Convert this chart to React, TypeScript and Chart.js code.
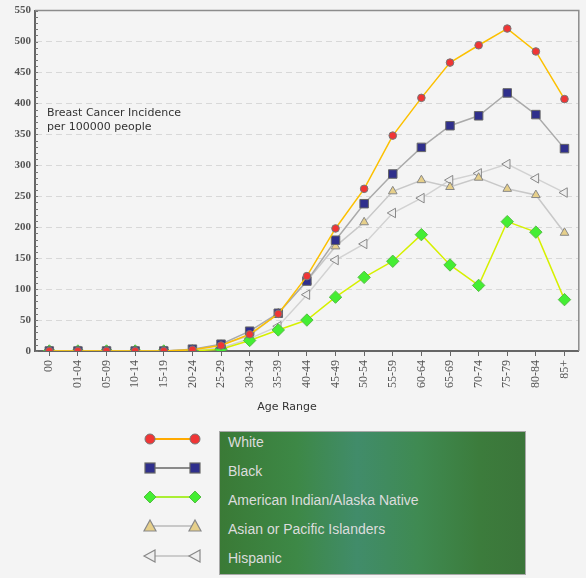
import React, { useEffect, useRef } from 'react';
import { Chart, registerables } from 'chart.js';

Chart.register(...registerables);

const ageRanges = [
  '00', '01-04', '05-09', '10-14', '15-19', '20-24', '25-29', '30-34', '35-39', '40-44',
  '45-49', '50-54', '55-59', '60-64', '65-69', '70-74', '75-79', '80-84', '85+',
];
const whiteValues = [0, 0, 0, 0, 0, 2, 9, 27, 60, 121, 198, 262, 348, 409, 466, 494, 521, 484, 407];
const blackValues = [0, 0, 0, 0, 0, 3, 11, 32, 61, 113, 179, 238, 286, 329, 364, 380, 417, 382, 327];
const amIndianValues = [0, 0, 0, 0, 0, 0, 3, 17, 34, 50, 87, 119, 145, 188, 139, 106, 209, 192, 83];
const asianValues = [0, 0, 0, 0, 0, 2, 10, 25, 61, 113, 169, 208, 258, 276, 265, 280, 262, 252, 191];
const hispanicValues = [0, 0, 0, 0, 0, 1, 5, 20, 40, 91, 147, 173, 223, 247, 276, 287, 302, 279, 256];

const seriesNames = [
  'White',
  'Black',
  'American Indian/Alaska Native',
  'Asian or Pacific Islanders',
  'Hispanic',
];
const yMax = 550;
const yStep = 50;
const annotationLines = ['Breast Cancer Incidence', 'per 100000 people'];
const xTitle = 'Age Range';

// look of each series: line colour, marker fill / border, marker shape
const seriesStyles = [
  { line: '#fcc000', legendLine: '#ffaa00', fill: '#f03535', border: '#777', shape: 'circle', radius: 3.8, rotation: 0 },
  { line: '#aaaaaa', legendLine: '#8a8a8a', fill: '#2f2f8c', border: '#666', shape: 'rect', radius: 6, rotation: 0 },
  { line: '#d6f000', legendLine: '#aaee33', fill: '#44ee33', border: '#55bb44', shape: 'rectRot', radius: 6.2, rotation: 0 },
  { line: '#c8c8c8', legendLine: '#c8c8c8', fill: '#e6cf8a', border: '#888', shape: 'triangle', radius: 5, rotation: 0 },
  { line: '#d2d2d2', legendLine: '#cccccc', fill: '#efefef', border: '#888', shape: 'triangle', radius: 5.5, rotation: -90 },
];

const extrasPlugin = {
  id: 'extras',
  beforeDatasetsDraw(chart: any) {
    const { ctx, chartArea: a, scales } = chart;
    ctx.save();
    // frame on top and right
    ctx.strokeStyle = '#8c8c8c';
    ctx.lineWidth = 1.5;
    ctx.beginPath();
    ctx.moveTo(a.left, a.top);
    ctx.lineTo(a.right, a.top);
    ctx.lineTo(a.right, a.bottom);
    ctx.stroke();
    // small ruler ticks on the y axis
    ctx.strokeStyle = '#777';
    ctx.lineWidth = 1;
    for (let v = 0; v <= yMax; v += 10) {
      const py = Math.round(scales.y.getPixelForValue(v)) + 0.5;
      ctx.beginPath();
      ctx.moveTo(a.left, py);
      ctx.lineTo(a.left + 3, py);
      ctx.stroke();
    }
    // note in the upper left
    ctx.fillStyle = '#333';
    ctx.font = '11px "DejaVu Sans"';
    ctx.textAlign = 'left';
    ctx.textBaseline = 'middle';
    annotationLines.forEach((t, i) => ctx.fillText(t, a.left + 12, 113 + i * 14));
    ctx.restore();
  },
  afterDraw(chart: any) {
    const { ctx } = chart;
    ctx.save();
    ctx.fillStyle = '#333';
    ctx.font = '11px "DejaVu Sans"';
    ctx.textAlign = 'center';
    ctx.textBaseline = 'middle';
    ctx.fillText(xTitle, 287, 407);
    ctx.restore();
  },
};

const LegendMarker: React.FC<{ shape: string; rotation: number; cx: number; cy: number; fill: string; stroke: string }> = ({ shape, rotation, cx, cy, fill, stroke }) => {
  if (shape === 'circle') return <circle cx={cx} cy={cy} r={5} fill={fill} stroke={stroke} strokeWidth={1} />;
  if (shape === 'rect') return <rect x={cx - 5} y={cy - 5} width={10} height={10} fill={fill} stroke={stroke} strokeWidth={1.2} />;
  if (shape === 'rectRot')
    return <polygon points={`${cx},${cy - 6} ${cx + 6},${cy} ${cx},${cy + 6} ${cx - 6},${cy}`} fill={fill} stroke={stroke} strokeWidth={1} />;
  const pts =
    rotation === -90
      ? `${cx - 6},${cy} ${cx + 5},${cy - 6} ${cx + 5},${cy + 6}`
      : `${cx},${cy - 6} ${cx + 6},${cy + 5} ${cx - 6},${cy + 5}`;
  return <polygon points={pts} fill={fill} stroke={stroke} strokeWidth={1.2} />;
};

const App: React.FC = () => {
  const chartRef = useRef<HTMLCanvasElement>(null);
  const chartInstance = useRef<Chart | null>(null);

  useEffect(() => {
    if (!chartRef.current) return;
    if (chartInstance.current) chartInstance.current.destroy();

    const seriesValues = [whiteValues, blackValues, amIndianValues, asianValues, hispanicValues];

    chartInstance.current = new Chart(chartRef.current, {
      type: 'line',
      data: {
        labels: ageRanges,
        datasets: seriesNames.map((name, i) => ({
          label: name,
          data: seriesValues[i],
          borderColor: seriesStyles[i].line,
          borderWidth: 1.5,
          backgroundColor: seriesStyles[i].fill,
          pointBackgroundColor: seriesStyles[i].fill,
          pointBorderColor: seriesStyles[i].border,
          pointBorderWidth: 1,
          pointStyle: seriesStyles[i].shape as any,
          pointRadius: seriesStyles[i].radius,
          pointRotation: seriesStyles[i].rotation,
          tension: 0,
          fill: false,
        })),
      },
      options: {
        responsive: true,
        maintainAspectRatio: false,
        animation: false,
        layout: { padding: { top: 9, right: 7, left: 0, bottom: 0 } },
        plugins: {
          legend: { display: false },
          tooltip: { enabled: false },
        },
        scales: {
          x: {
            offset: true,
            grid: {
              display: true,
              drawOnChartArea: false,
              drawTicks: true,
              tickLength: 5,
              color: '#666',
              offset: false,
            },
            border: { color: '#666', width: 2 },
            ticks: {
              autoSkip: false,
              maxRotation: 90,
              minRotation: 90,
              padding: 4,
              color: '#555',
              font: { family: '"Liberation Serif"', size: 12 },
            },
            afterFit: (scale: any) => {
              scale.height = 69;
            },
          },
          y: {
            min: 0,
            max: yMax,
            grid: { color: '#d8d8d8', drawTicks: false, lineWidth: 1 },
            border: { color: '#666', width: 2, dash: [6, 4] },
            ticks: {
              stepSize: yStep,
              padding: 4,
              color: '#555',
              font: { family: '"Liberation Serif"', size: 11, weight: 'bold' },
            },
            afterFit: (scale: any) => {
              scale.width = 35;
            },
          },
        },
      },
      plugins: [extrasPlugin],
    });

    return () => {
      if (chartInstance.current) {
        chartInstance.current.destroy();
        chartInstance.current = null;
      }
    };
  }, []);

  const rowCenters = [14, 43, 72, 101, 131];

  return (
    <div style={{ position: 'absolute', left: 0, top: 0, width: 586, height: 578, background: '#f4f4f4', overflow: 'hidden' }}>
      <div style={{ position: 'absolute', left: 0, top: 0, width: 586, height: 420 }}>
        <canvas ref={chartRef} />
      </div>
      <svg style={{ position: 'absolute', left: 140, top: 425 }} width={70} height={150}>
        {seriesStyles.map((s, i) => (
          <g key={i}>
            <line x1={10} y1={rowCenters[i]} x2={55} y2={rowCenters[i]} stroke={s.legendLine} strokeWidth={2} />
            <LegendMarker shape={s.shape} rotation={s.rotation} cx={10} cy={rowCenters[i]} fill={s.fill} stroke={s.border} />
            <LegendMarker shape={s.shape} rotation={s.rotation} cx={55} cy={rowCenters[i]} fill={s.fill} stroke={s.border} />
          </g>
        ))}
      </svg>
      <div
        style={{
          position: 'absolute',
          left: 219,
          top: 431,
          width: 307,
          height: 144,
          boxSizing: 'border-box',
          border: '1px solid #a8a8a8',
          background: 'linear-gradient(to right, #3a7a36 0%, #3d8846 25%, #418c6a 45%, #3f8a52 65%, #3c7c3c 85%, #3b753a 100%)',
        }}
      >
        {seriesNames.map((name, i) => (
          <div
            key={name}
            style={{
              position: 'absolute',
              left: 8,
              top: [10, 39, 68, 97, 126][i] - 9,
              lineHeight: '18px',
              fontFamily: '"Liberation Sans", Arial, sans-serif',
              fontSize: 14,
              color: '#dcdcdc',
              whiteSpace: 'nowrap',
            }}
          >
            {name}
          </div>
        ))}
      </div>
    </div>
  );
};

export default App;
